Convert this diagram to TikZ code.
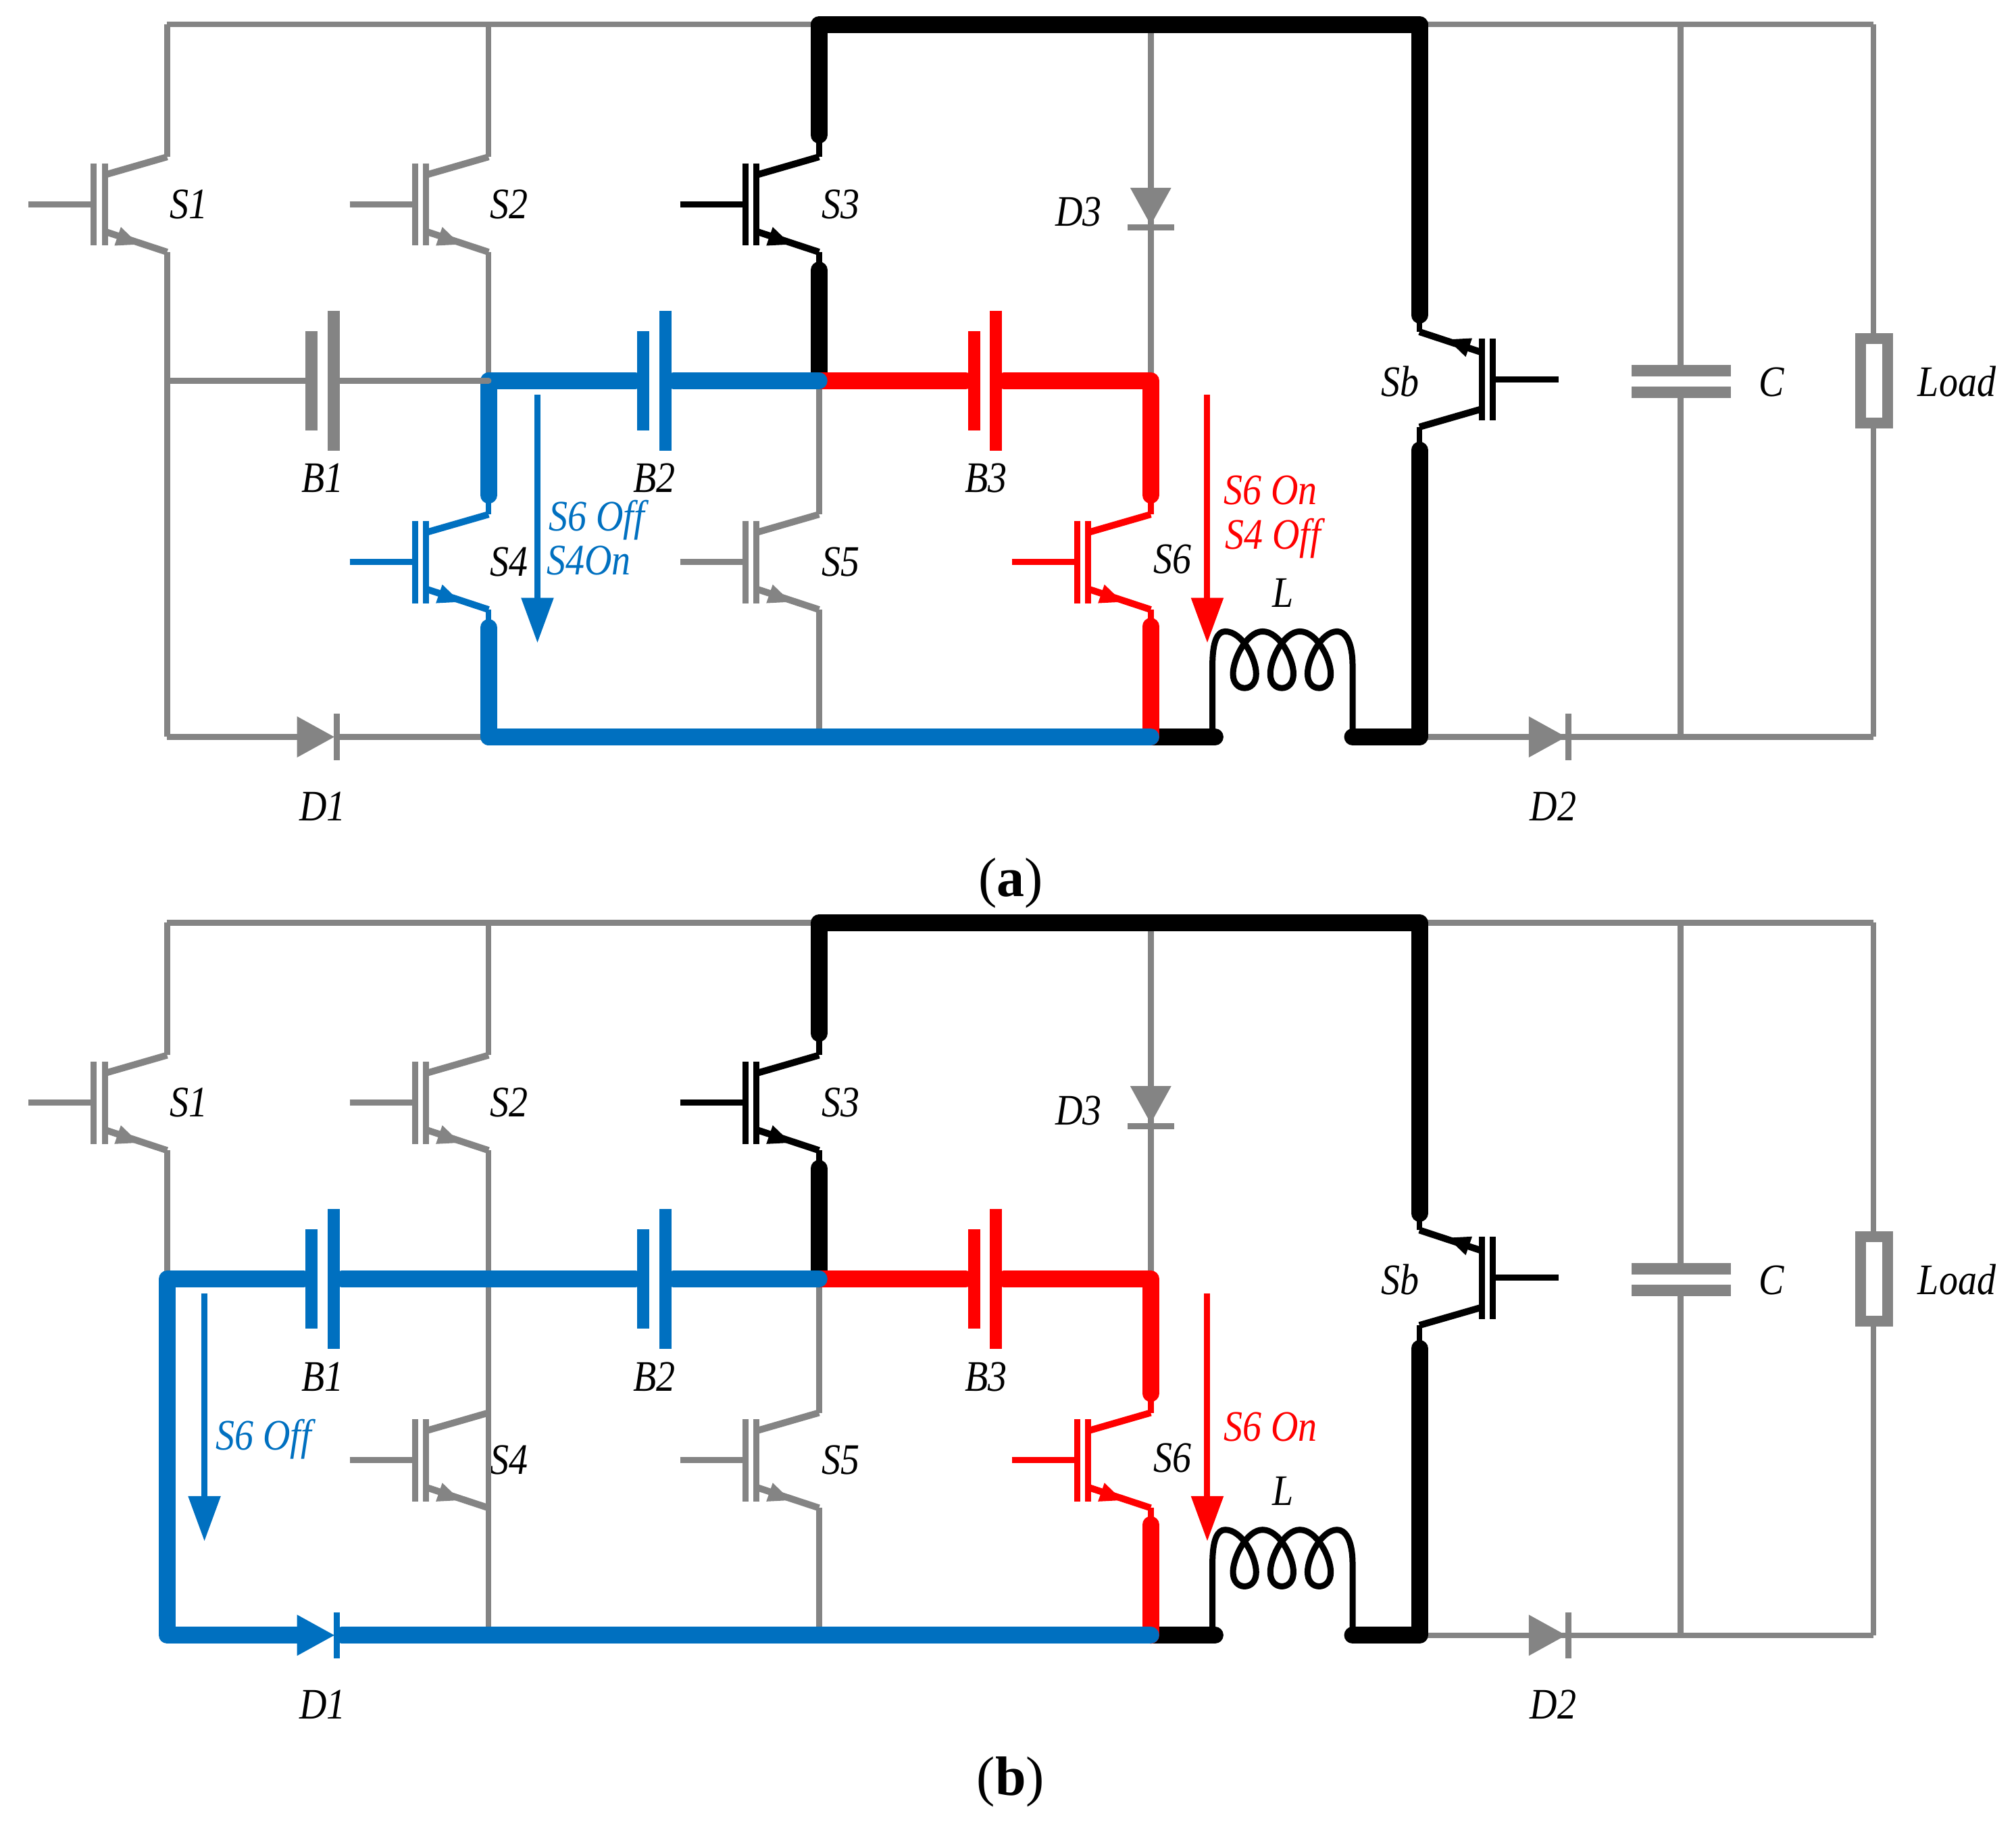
\documentclass[tikz,border=0pt]{standalone}
\usepackage{fontspec}
\usepackage{tikz}
\usetikzlibrary{arrows.meta}
\setmainfont{Liberation Serif}
\definecolor{wiregray}{RGB}{132,132,132}
\definecolor{myblue}{RGB}{0,112,192}

\tikzset{
  wire/.style={line width=8.5pt, color=wiregray},
  lead/.style={line width=8.5pt},
  rail/.style={line width=25pt, line cap=round, line join=round},
  flow/.style={line width=9pt, -{Triangle[length=67pt,width=46pt]}},
  lbl/.style={anchor=base, inner sep=0pt, yscale=1.15, transform shape, font=\fontsize{56}{60}\selectfont\itshape},
  caption/.style={anchor=base, inner sep=0pt, font=\fontsize{82}{86}\selectfont},
  igbt/.pic={
    \coordinate (-c) at (0,-37);
    \coordinate (-e) at (0,37);
    \draw[line width=9pt] (-108,0) -- (-57,0);
    \draw[line width=9pt] (-57,-32) -- (-57,32);
    \draw[line width=9pt] (-48.5,-32) -- (-48.5,32);
    \draw[line width=10pt, line join=round] (-48.5,-23) -- (0,-37);
    \draw[line width=10pt] (-48.5,21) -- (0,37);
    \fill (-22,31) -- (-36,17.5) -- (-41,32) -- cycle;
  },
  battery/.pic={
    \coordinate (-l) at (-15,0);
    \coordinate (-r) at (15,0);
    \coordinate (-a) at (-8.5,0);
    \coordinate (-b) at (8.5,0);
    \draw[line width=18pt] (-8.5,-38.5) -- (-8.5,38.5);
    \draw[line width=18pt] (8.5,-54.5) -- (8.5,54.5);
  },
  diode/.pic={
    \coordinate (-l) at (-15,0);
    \coordinate (-k) at (16,0);
    \coordinate (-r) at (20,0);
    \fill (-15,-16) -- (-15,16) -- (14,0) -- cycle;
    \draw[line width=9pt] (16,-18) -- (16,18);
  },
}

% everything that stays the same in both panels
\newcommand{\commonparts}{
  % junctions on the rails
  \coordinate (tl) at (130,19);
  \coordinate (t2) at (380,19);
  \coordinate (t3) at (637,19);
  \coordinate (td) at (895,19);
  \coordinate (tb) at (1104,19);
  \coordinate (tc) at (1307,19);
  \coordinate (tr) at (1457,19);
  \coordinate (bl) at (130,573);
  \coordinate (b2) at (380,573);
  \coordinate (b3) at (637,573);
  \coordinate (b6) at (895,573);
  \coordinate (bL) at (945,573);
  \coordinate (bR) at (1052,573);
  \coordinate (bb) at (1104,573);
  \coordinate (bc) at (1307,573);
  \coordinate (br) at (1457,573);
  \coordinate (m1) at (130,296);
  \coordinate (m2) at (380,296);
  \coordinate (m3) at (637,296);
  \coordinate (m6) at (895,296);

  % gray wires
  \draw[wire] (tl) -- (t3);
  \draw[wire] (tb) -- (tr);
  \draw[wire] (td) -- (m6);
  \draw[wire] (tc) -- (1307,287);
  \draw[wire] (1307,304) -- (bc);
  \draw[wire] (tr) -- (1457,262);
  \draw[wire] (1457,328) -- (br);
  \draw[wire] (bb) -- (br);

  % switches
  \pic[color=wiregray] (S1) at (130,159) {igbt};
  \pic[color=wiregray] (S2) at (380,159) {igbt};
  \pic[color=black] (S3) at (637,159) {igbt};
  \pic[color=wiregray] (S5) at (637,437) {igbt};
  \pic[color=red] (S6) at (895,437) {igbt};
  \pic[color=black, xscale=-1, yscale=-1] (Sb) at (1104,295) {igbt};

  \draw[wire] (tl) -- (S1-c);
  \draw[wire] (t2) -- (S2-c);
  \draw[wire] (S5-e) -- (b3);
  \draw[wire] (m3) -- (S5-c);

  % black path
  \draw[lead, black] (t3) -- (S3-c);
  \draw[lead, black] (S3-e) -- (m3);
  \draw[lead, black] (tb) -- (Sb-e);
  \draw[lead, black] (Sb-c) -- (bb);
  \draw[rail, black] (637,105) -- (t3) -- (tb) -- (1104,245);
  \draw[rail, black] (637,210) -- (m3);
  \draw[rail, black] (1104,350) -- (bb) -- (bR);
  \draw[rail, black] (b6) -- (bL);

  % inductor
  \draw[line width=9pt, black, line join=round] (943,573) -- (943,518)
    .. controls (943,498) and (947,491) .. (953,491)
    .. controls (966,491) and (977,512) .. (977,524)
    .. controls (977,531) and (973,535) .. (968,535)
    .. controls (963,535) and (959,531) .. (959,524)
    .. controls (959,512) and (970,491) .. (982,491)
    .. controls (995,491) and (1006,512) .. (1006,524)
    .. controls (1006,531) and (1002,535) .. (997,535)
    .. controls (992,535) and (988,531) .. (988,524)
    .. controls (988,512) and (999,491) .. (1011,491)
    .. controls (1024,491) and (1035,512) .. (1035,524)
    .. controls (1035,531) and (1031,535) .. (1026,535)
    .. controls (1021,535) and (1017,531) .. (1017,524)
    .. controls (1017,512) and (1028,491) .. (1040,491)
    .. controls (1046,491) and (1052,498) .. (1052,518) -- (1052,573);

  % red path
  \pic[color=red] (B3) at (766,296) {battery};
  \draw[lead, red] (S6-e) -- (895,560);
  \draw[lead, red] (m6) -- (S6-c);
  \draw[rail, red] (m3) -- (B3-l);
  \draw[rail, red] (B3-r) -- (m6) -- (895,385);
  \draw[rail, red] (895,487) -- (b6);

  % diodes, capacitor and load
  \pic[color=wiregray] (D2) at (1204,573) {diode};
  \pic[color=wiregray, rotate=-90] (D3) at (895,161) {diode};
  \draw[line width=17pt, wiregray] (1269,288) -- (1346,288);
  \draw[line width=17pt, wiregray] (1269,305) -- (1346,305);
  \draw[line width=16pt, wiregray] (1447,263) rectangle (1468,329);

  % labels
  \node[lbl] (lS1) at (147,170) {S1};
  \node[lbl] (lS2) at (396,170) {S2};
  \node[lbl] (lS3) at (654,170) {S3};
  \node[lbl] (lS4) at (396,448) {S4};
  \node[lbl] (lS5) at (654,448) {S5};
  \node[lbl] (lS6) at (912,446) {S6};
  \node[lbl] (lD1) at (251,638) {D1};
  \node[lbl] (lD2) at (1208,638) {D2};
  \node[lbl] (lD3) at (839,176) {D3};
  \node[lbl] (lB1) at (251,383) {B1};
  \node[lbl] (lB2) at (509,383) {B2};
  \node[lbl] (lB3) at (767,383) {B3};
  \node[lbl] (lL) at (998,472) {L};
  \node[lbl] (lSb) at (1089,308) {Sb};
  \node[lbl] (lC) at (1378,308) {C};
  \node[lbl] (lLoad) at (1522,308) {Load};

  % red current arrow
  \coordinate (rs) at (939,307);
  \coordinate (re) at (939,500);
  \draw[flow, red] (rs) -- (re);
}

\begin{document}
\begin{tikzpicture}[x=1.903pt,y=-1.903pt]
  \useasboundingbox (0,0) rectangle (1568,1421);

  % panel (a)
  \begin{scope}
    \commonparts
    \draw[wire] (S1-e) -- (bl);
    \draw[wire] (S2-e) -- (m2);
    \pic[color=myblue] (S4) at (380,437) {igbt};
    \pic[color=wiregray] (D1) at (246,573) {diode};
    \pic[color=wiregray] (B1) at (251,296) {battery};
    \pic[color=myblue] (B2) at (509,296) {battery};
    \draw[wire] (bl) -- (D1-l);
    \draw[wire] (D1-k) -- (b2);
    % blue path
    \draw[lead, myblue] (m2) -- (S4-c);
    \draw[lead, myblue] (S4-e) -- (b2);
    \draw[rail, myblue] (380,385) -- (m2) -- (B2-l);
    \draw[rail, myblue] (B2-r) -- (m3);
    \draw[rail, myblue] (380,488) -- (b2) -- (b6);
    \draw[wire] (m1) -- (B1-a);
    \draw[wire, line cap=round] (B1-b) -- (m2);
    \coordinate (bs) at (418,307);
    \coordinate (be) at (418,500);
    \draw[flow, myblue] (bs) -- (be);
    \node[lbl, myblue] (t1) at (464,413) {S6 Off};
    \node[lbl, myblue] (t2) at (458,447) {S4On};
    \node[lbl, red] (t3) at (988,392) {S6 On};
    \node[lbl, red] (t4) at (990,427) {S4 Off};
  \end{scope}
  \node[caption] (capa) at (786,697) {(\textbf{a})};

  % panel (b)
  \begin{scope}[shift={(0,698.5)}]
    \commonparts
    \draw[wire] (S1-e) -- (m1);
    \draw[wire] (S2-e) -- (b2);
    \pic[color=wiregray] (S4) at (380,437) {igbt};
    \pic[color=myblue] (D1) at (246,573) {diode};
    \pic[color=myblue] (B1) at (251,296) {battery};
    \pic[color=myblue] (B2) at (509,296) {battery};
    % blue path
    \draw[rail, myblue] (B1-l) -- (m1) -- (bl) -- (D1-l);
    \draw[rail, myblue] (D1-r) -- (b6);
    \draw[rail, myblue] (B1-r) -- (B2-l);
    \draw[rail, myblue] (B2-r) -- (m3);
    \coordinate (bs) at (159,307);
    \coordinate (be) at (159,500);
    \draw[flow, myblue] (bs) -- (be);
    \node[lbl, myblue] (t1) at (205,429) {S6 Off};
    \node[lbl, red] (t3) at (988,422) {S6 On};
  \end{scope}
  \node[caption] (capb) at (786,1396) {(\textbf{b})};
\end{tikzpicture}
\end{document}
